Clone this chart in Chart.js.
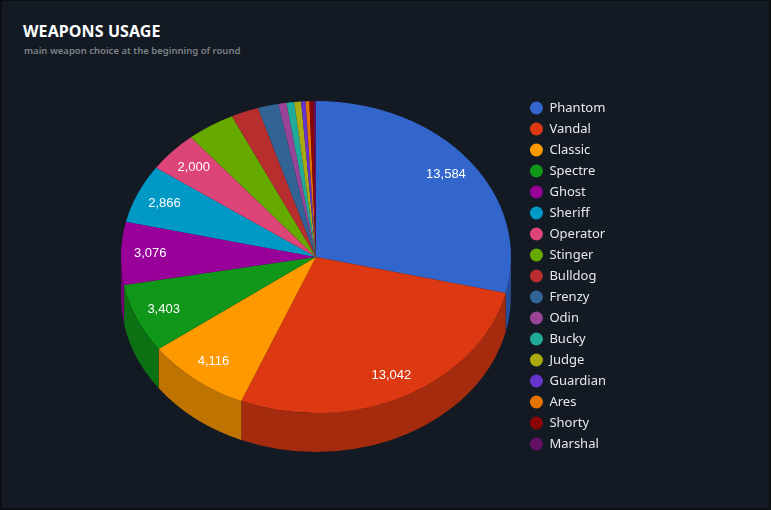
<!DOCTYPE html>
<html>
<head>
<meta charset="utf-8">
<script src="https://cdn.jsdelivr.net/npm/chart.js@4.4.1/dist/chart.umd.min.js"></script>
<style>
  html, body { margin: 0; padding: 0; background: #0b0f14; }
  #wrap {
    position: relative; width: 771px; height: 510px; box-sizing: border-box;
    border: 2px solid #0b0f14; border-top-width: 1px; background: #131a23; overflow: hidden;
  }
  #title {
    position: absolute; left: 21px; top: 19px; color: #ffffff;
    font: bold 16px "Noto Sans", sans-serif; letter-spacing: 0.1px;
  }
  #subtitle {
    position: absolute; left: 22px; top: 43px; color: #7c8187;
    font: 600 9.5px "Noto Sans", sans-serif;
  }
  #chart { position: absolute; left: -2px; top: -1px; }
</style>
</head>
<body>
<div id="wrap">
  <div id="title">WEAPONS USAGE</div>
  <div id="subtitle">main weapon choice at the beginning of round</div>
  <canvas id="chart" width="771" height="510"></canvas>
</div>
<script>
// datos
var weapons = ["Phantom", "Vandal", "Classic", "Spectre", "Ghost", "Sheriff", "Operator", "Stinger",
               "Bulldog", "Frenzy", "Odin", "Bucky", "Judge", "Guardian", "Ares", "Shorty", "Marshal"];
var usage = [13584, 13042, 4116, 3403, 3076, 2866, 2000, 1890, 1080, 810, 320, 305, 265, 175, 145, 160, 95];
var colors = ["#3366cc", "#dc3912", "#ff9900", "#109618", "#990099", "#0099c6", "#dd4477", "#66aa00",
              "#b82e2e", "#316395", "#994499", "#22aa99", "#aaaa11", "#6633cc", "#e67300", "#8b0707", "#651067"];

var tilt = 0.8;       // aplastado vertical de la cara superior
var depth = 39;       // grosor del "3d"
var labelMin = 0.042; // fraccion minima para mostrar el valor
var legendDrop = 19;  // la leyenda va un poco mas abajo que el centro

function darker(hex, f) {
    var n = parseInt(hex.slice(1), 16);
    var r = Math.round(((n >> 16) & 255) * f), g = Math.round(((n >> 8) & 255) * f), b = Math.round((n & 255) * f);
    return "rgb(" + r + "," + g + "," + b + ")";
}

// plugin: lados del pastel y escala eliptica
var pie3d = {
    id: "pie3d",
    afterLayout: function(chart) {
        if (chart.legend) {
            chart.legend.top += legendDrop;
            chart.legend.bottom += legendDrop;
        }
    },
    beforeDatasetsDraw: function(chart) {
        var ctx = chart.ctx;
        var arcs = chart.getDatasetMeta(0).data;
        if (!arcs.length) return;
        var cx = arcs[0].x, cy = arcs[0].y, r = arcs[0].outerRadius, ry = r * tilt;
        arcs.forEach(function(arc, i) {
            var a = Math.max(arc.startAngle, 0), b = Math.min(arc.endAngle, Math.PI);
            if (b <= a) return;
            ctx.beginPath();
            ctx.ellipse(cx, cy, r, ry, 0, a, b);
            ctx.ellipse(cx, cy + depth, r, ry, 0, b, a, true);
            ctx.closePath();
            ctx.fillStyle = darker(colors[i], 0.75);
            ctx.fill();
        });
        ctx.save();
        ctx.translate(cx, cy);
        ctx.scale(1, tilt);
        ctx.translate(-cx, -cy);
    },
    afterDatasetsDraw: function(chart) {
        var ctx = chart.ctx;
        ctx.restore();
        var arcs = chart.getDatasetMeta(0).data;
        var total = usage.reduce(function(s, v) { return s + v; }, 0);
        ctx.save();
        ctx.fillStyle = "#ffffff";
        ctx.font = "13px 'Liberation Sans', Arial, sans-serif";
        ctx.textAlign = "center";
        ctx.textBaseline = "middle";
        arcs.forEach(function(arc, i) {
            if (usage[i] / total < labelMin) return;
            var mid = (arc.startAngle + arc.endAngle) / 2;
            var rr = arc.outerRadius * 0.85;
            ctx.fillText(usage[i].toLocaleString("en-US"),
                arc.x + Math.cos(mid) * rr, arc.y + Math.sin(mid) * rr * tilt);
        });
        ctx.restore();
    }
};

var weaponsChart = new Chart(document.querySelector("#chart"), {
    type: "pie",
    data: {
        labels: weapons,
        datasets: [{
            label: "Usage",
            data: usage,
            backgroundColor: colors,
            borderWidth: 0
        }]
    },
    options: {
        responsive: false,
        animation: false,
        events: [],
        layout: { padding: { top: 62, bottom: 58, left: 110, right: 155 } },
        plugins: {
            tooltip: { enabled: false },
            legend: {
                position: "right",
                labels: {
                    usePointStyle: true,
                    pointStyle: "circle",
                    boxHeight: 9.2,
                    pointStyleWidth: 13,
                    padding: 8,
                    color: "#e6e8ea",
                    font: { family: "'Noto Sans', sans-serif", size: 13 }
                }
            }
        }
    },
    plugins: [pie3d]
});
</script>
</body>
</html>
